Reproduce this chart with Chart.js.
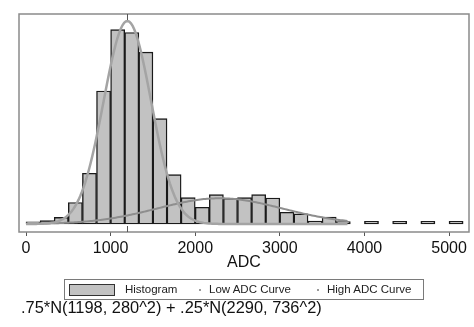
<!DOCTYPE html>
<html lang="en">

<head>
    <meta charset="UTF-8">
    <title>ADC Histogram</title>
    <script src="https://cdn.jsdelivr.net/npm/chart.js"></script>
    <style>
        body { margin: 0; background: #fff; font-family: "Liberation Sans", Arial, sans-serif; }
        #wrap { position: relative; width: 474px; height: 327px; }
        #wrap canvas { position: absolute; left: 0; top: 0; }
        .legend { position: absolute; left: 64px; top: 279px; width: 358px; height: 19px; border: 1px solid #7a7a7a; font-size: 11.5px; color: #222; }
        .legend span { position: absolute; top: 3px; white-space: nowrap; }
        .swatch { position: absolute; left: 4px; top: 4px; width: 44px; height: 10px; background: #c2c2c2; border: 1px solid #333; }
        .dot { position: absolute; top: 9px; width: 2px; height: 2px; background: #9a9a9a; }
        .note { position: absolute; left: 21px; top: 298px; font-size: 16.4px; color: #111; white-space: nowrap; }
    </style>
</head>

<body>
    <div id="wrap">
        <canvas id="adcChart" width="474" height="327"></canvas>
        <div class="legend">
            <div class="swatch"></div>
            <span style="left: 60px;">Histogram</span>
            <div class="dot" style="left: 134px;"></div>
            <span style="left: 144px;">Low ADC Curve</span>
            <div class="dot" style="left: 252px;"></div>
            <span style="left: 262px;">High ADC Curve</span>
        </div>
        <div class="note">.75*N(1198, 280^2) + .25*N(2290, 736^2)</div>
    </div>

    <script>
        // x axis labels
        const xTickValues = [0, 1000, 2000, 3000, 4000, 5000];

        // histogram: bins of width 1000/6 starting at 0, density per bin
        const binStart = 0;
        const binWidth = 1000 / 6;
        const binDensity = [
            0.000012, 0.000018, 0.000035, 0.000113, 0.000267, 0.000700,
            0.001023, 0.001008, 0.000905, 0.000555, 0.000260, 0.000139,
            0.000088, 0.000155, 0.000135, 0.000139, 0.000155, 0.000137,
            0.000062, 0.000053, 0.000016, 0.000037, 0.000013, 0,
            0.000014, 0, 0.000014, 0, 0.000014, 0, 0.000014
        ];

        // mixture components from the fitted model
        const lowFit = { weight: 0.75, mean: 1198, sd: 280 };
        const highFit = { weight: 0.25, mean: 2290, sd: 736 };
        const curveRange = [0, 3800];

        function fitCurve(fit) {
            const pts = [];
            for (let x = curveRange[0]; x <= curveRange[1]; x += 20) {
                const z = (x - fit.mean) / fit.sd;
                pts.push({ x: x, y: fit.weight * Math.exp(-0.5 * z * z) / (fit.sd * Math.sqrt(2 * Math.PI)) });
            }
            return pts;
        }

        const bars = [];
        binDensity.forEach((d, i) => {
            if (d > 0) bars.push({ x: binStart + (i + 0.5) * binWidth, y: d });
        });

        // gray frame round the plot and the inward ticks at the low mean
        const framePlugin = {
            id: 'frame',
            afterDatasetsDraw(chart) {
                const { ctx, chartArea: a, scales } = chart;
                ctx.save();
                ctx.strokeStyle = '#8a8a8a';
                ctx.lineWidth = 1.5;
                ctx.strokeRect(a.left, a.top, a.right - a.left, a.bottom - a.top);
                const mx = Math.round(scales.x.getPixelForValue(lowFit.mean)) + 0.5;
                ctx.strokeStyle = '#555';
                ctx.lineWidth = 1;
                ctx.beginPath();
                ctx.moveTo(mx, a.top); ctx.lineTo(mx, a.top + 6);
                ctx.moveTo(mx, a.bottom); ctx.lineTo(mx, a.bottom - 6);
                ctx.stroke();
                ctx.restore();
            }
        };

        new Chart(document.getElementById('adcChart'), {
            type: 'bar',
            data: {
                datasets: [{
                    label: 'Low ADC Curve',
                    type: 'line',
                    data: fitCurve(lowFit),
                    borderColor: '#a4a4a4',
                    borderWidth: 2.5,
                    pointRadius: 0,
                    order: 1
                }, {
                    label: 'High ADC Curve',
                    type: 'line',
                    data: fitCurve(highFit),
                    borderColor: '#8e8e8e',
                    borderWidth: 2,
                    pointRadius: 0,
                    order: 2
                }, {
                    label: 'Histogram',
                    data: bars,
                    backgroundColor: '#c2c2c2',
                    borderColor: '#1a1a1a',
                    borderWidth: 1.4,
                    borderSkipped: false,
                    barPercentage: 1,
                    categoryPercentage: 1,
                    order: 3
                }]
            },
            options: {
                responsive: false,
                animation: false,
                layout: { padding: { left: 19, right: 5, top: 14, bottom: 55 } },
                plugins: { legend: { display: false }, tooltip: { enabled: false } },
                scales: {
                    x: {
                        type: 'linear',
                        offset: false,
                        min: -83,
                        max: 5236,
                        afterBuildTicks: s => { s.ticks = xTickValues.map(v => ({ value: v })); },
                        afterFit: s => { s.height = 40; },
                        border: { display: false },
                        grid: { offset: false, drawOnChartArea: false, drawTicks: true, tickLength: 4, color: '#555' },
                        ticks: {
                            padding: 3,
                            maxRotation: 0,
                            color: '#111',
                            callback: v => String(v),
                            font: { family: '"Liberation Sans", Arial, sans-serif', size: 16 }
                        },
                        title: {
                            display: true,
                            text: 'ADC',
                            color: '#111',
                            padding: 0,
                            font: { family: '"Liberation Sans", Arial, sans-serif', size: 16 }
                        }
                    },
                    y: {
                        display: false,
                        min: -0.000042,
                        max: 0.0011054
                    }
                }
            },
            plugins: [framePlugin]
        });
    </script>
</body>

</html>
